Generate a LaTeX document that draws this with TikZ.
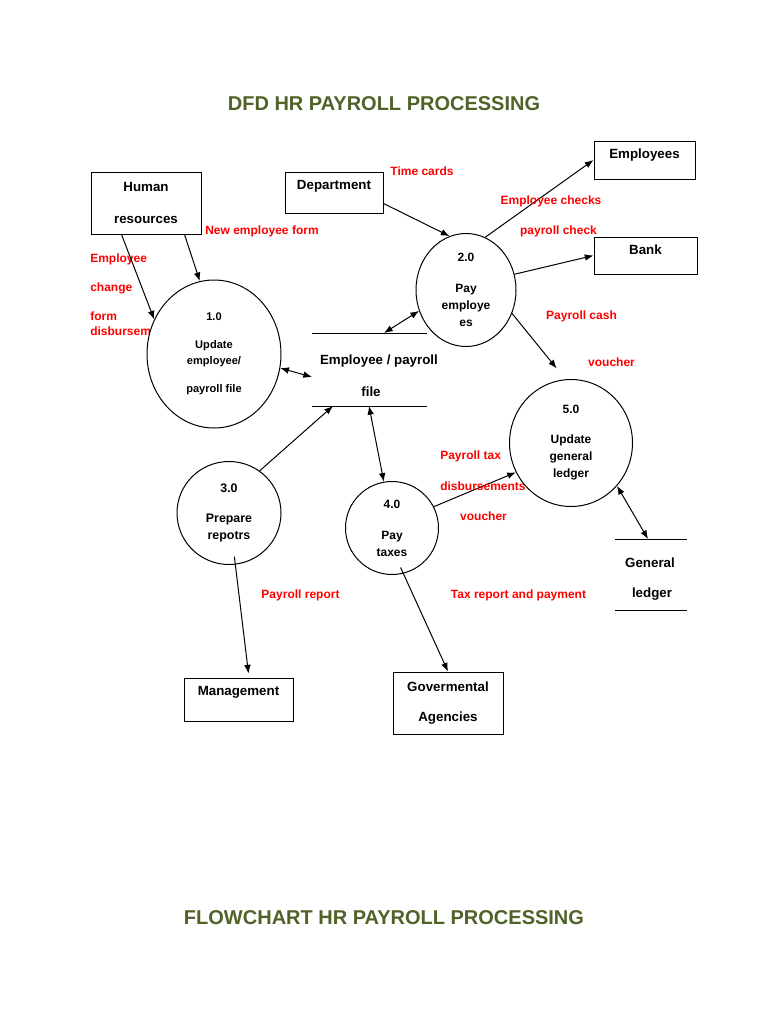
\documentclass[tikz,border=0pt]{standalone}
\usepackage{fontspec}
\setmainfont{Liberation Sans}
\usetikzlibrary{shapes.geometric,arrows.meta,calc}
\definecolor{titlegreen}{HTML}{4F6228}
\definecolor{lblred}{HTML}{FF0000}
\begin{document}
\begin{tikzpicture}[x=0.75pt,y=-0.75pt,
  box/.style={draw, line width=0.75pt, inner sep=0pt, font=\bfseries\fontsize{10}{12}\selectfont},
  onebox/.style={box, text height=13pt},
  twobox/.style={box, align=center},
  proc/.style={ellipse, draw, fill=white, line width=0.75pt, inner sep=0pt, align=center},
  lbl/.style={text=lblred, font=\bfseries\fontsize{9}{11}\selectfont, inner sep=0pt},
  storetxt/.style={font=\bfseries\fontsize{10}{12}\selectfont, inner sep=0pt},
  storeline/.style={line width=0.75pt},
  flow/.style={line width=0.75pt, -{Latex[length=6.5pt,width=5pt]}},
  bflow/.style={line width=0.75pt, {Latex[length=6.5pt,width=5pt]}-{Latex[length=6.5pt,width=5pt]}},
  title/.style={text=titlegreen, font=\bfseries\fontsize{15}{18}\selectfont, inner sep=0pt}
]
\path[use as bounding box, fill=white] (0,0) rectangle (768,1024);

% titles
\node[title] (t1) at (384,104) {DFD HR PAYROLL PROCESSING};
\node[title] (t2) at (384,918) {FLOWCHART HR PAYROLL PROCESSING};

% external entities
\node[twobox, minimum width=82.5pt, minimum height=46.5pt] (hr) at (146,203) {Human\\[12pt]resources};
\node[onebox, minimum width=73.5pt, text depth=17.75pt] (dept) at (334,192.5) {Department};
\node[onebox, minimum width=75.75pt, text depth=15.5pt] (emp) at (644.5,160) {Employees};
\node[onebox, minimum width=77.25pt, text depth=14.75pt] (bank) at (645.5,255.5) {Bank};
\node[onebox, minimum width=81.75pt, text depth=19.25pt] (mg) at (238.5,699.5) {Management};
\node[twobox, minimum width=82.5pt, minimum height=46.5pt] (gov) at (448,703) {Govermental\\[11pt]Agencies};

% labels at left (partly hidden by process 1.0)
\node[lbl, anchor=west] (l1) at (90,259) {Employee};
\node[lbl, anchor=west] (l2) at (90,288) {change};
\node[lbl, anchor=west] (l3) at (90,316) {form};
\node[lbl, anchor=west] (l4) at (90,331) {disbursements};

% processes
\node[proc, minimum width=100.5pt, minimum height=111pt, font=\bfseries\fontsize{8.3}{12}\selectfont] (p1) at (214,354)
  {1.0\\[9pt]Update\\employee/\\[9pt]payroll file};
\node[proc, minimum width=75pt, minimum height=84.75pt, font=\bfseries\fontsize{9}{12.5}\selectfont] (p2) at (466,290)
  {2.0\\[10.75pt]Pay\\employe\\es};
\node[proc, minimum width=92.25pt, minimum height=95.25pt, font=\bfseries\fontsize{9}{12.75}\selectfont] (p5) at (571,443)
  {5.0\\[9.75pt]Update\\general\\ledger};
\node[proc, minimum width=78pt, minimum height=77.25pt, font=\bfseries\fontsize{9.3}{12.75}\selectfont] (p3) at (229,513)
  {3.0\\[9.75pt]Prepare\\repotrs};
\node[proc, minimum width=69.75pt, minimum height=69.75pt, font=\bfseries\fontsize{9}{12.75}\selectfont] (p4) at (392,528)
  {4.0\\[10.5pt]Pay\\taxes};

% data stores
\coordinate (s1tl) at (312,333); \coordinate (s1tr) at (427,333);
\coordinate (s1bl) at (312,406); \coordinate (s1br) at (427,406);
\draw[storeline] (s1tl) -- (s1tr);
\draw[storeline] (s1bl) -- (s1br);
\node[storetxt] (s1a) at (379,361) {Employee / payroll};
\node[storetxt] (s1b) at (371,392) {file};

\coordinate (gltl) at (615,539); \coordinate (gltr) at (687,539);
\coordinate (glbl) at (615,610); \coordinate (glbr) at (687,610);
\draw[storeline] (gltl) -- (gltr);
\draw[storeline] (glbl) -- (glbr);
\node[storetxt] (gla) at (650,563) {General};
\node[storetxt] (glb) at (652,594) {ledger};

% store attachment points
\coordinate (s1c1) at (312,377);
\coordinate (s1c2) at (384,333);
\coordinate (s1c3) at (333,406);
\coordinate (s1c4) at (369,406);
\coordinate (glc) at (648,539);

% flows
\draw[flow] ($(hr.south west)+(31,0)$) -- (p1.150);
\draw[flow] ($(hr.south west)+(94,0)$) -- (p1.101);
\draw[flow] ($(dept.south east)+(0,-10)$) -- (p2.107);
\draw[flow] (p2.70) -- (emp.west);
\draw[flow] (p2.18) -- (bank.west);
\draw[flow, shorten >=10.5pt] (p2.-27) -- (p5.95);
\draw[bflow] (p2.204) -- (s1c2);
\draw[bflow] (p1.-12) -- (s1c1);
\draw[flow] (p3.54) -- (s1c3);
\draw[bflow] (s1c4) -- (p4.100);
\draw[flow] (p4.27) -- (p5.208);
\draw[bflow] (p5.-43) -- (glc);
\draw[flow, shorten <=-6pt] (p3.-83) -- ($(mg.north west)+(65,-4)$);
\draw[flow, shorten <=-5pt] (p4.-76) -- (gov.north);

% flow labels
\node[lbl] (lt) at (422,171) {Time cards};
\node[lbl] (lnef) at (262,231) {New employee form};
\node[lbl] (lec) at (551,201) {Employee checks};
\node[lbl] (lpc) at (558.5,231) {payroll check};
\node[lbl] (lpcash) at (581.5,316) {Payroll cash};
\node[lbl] (lv1) at (611.5,362) {voucher};
\node[lbl, anchor=west] (lpt) at (440,456) {Payroll tax};
\node[lbl, anchor=west] (ldis) at (440,486) {disbursements};
\node[lbl] (lv2) at (483.5,516) {voucher};
\node[lbl] (lpr) at (300.5,595) {Payroll report};
\node[lbl] (ltr) at (518.5,595) {Tax report and payment};
\end{tikzpicture}
\end{document}
